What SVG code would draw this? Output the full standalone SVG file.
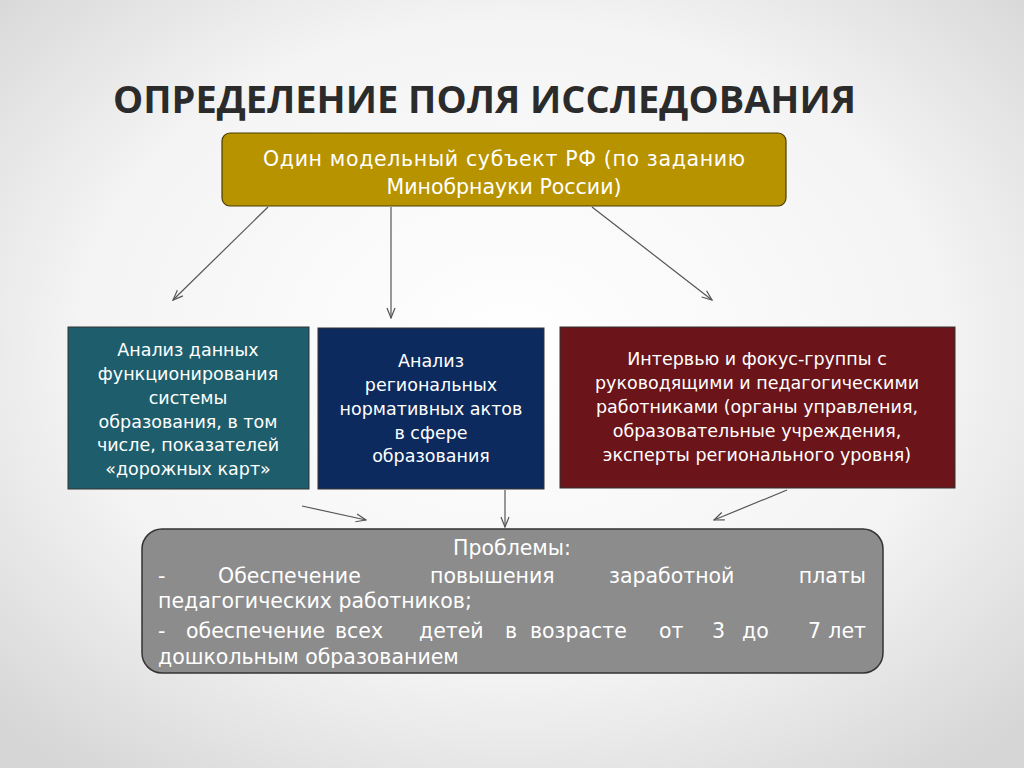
<svg xmlns="http://www.w3.org/2000/svg" width="1024" height="768" viewBox="0 0 1024 768">
<defs>
<radialGradient id="bg" cx="50%" cy="45%" r="70%"><stop offset="0" stop-color="#ffffff"/><stop offset="0.6" stop-color="#f4f4f4"/><stop offset="1" stop-color="#d6d6d6"/></radialGradient>
<marker id="ah" markerWidth="12" markerHeight="10" refX="11" refY="5" orient="auto" markerUnits="userSpaceOnUse"><path d="M1,1 L11,5 L1,9" fill="none" stroke="#555" stroke-width="1.2"/></marker>
<style>
.t{font-family:"DejaVu Sans","Open Sans",sans-serif;fill:#fff;font-size:17.5px;text-anchor:middle}
.b{font-family:"DejaVu Sans","Open Sans",sans-serif;fill:#fff;font-size:20.5px}
.c{stroke:#555;stroke-width:1.2;fill:none;marker-end:url(#ah)}
</style>
</defs>
<rect width="1024" height="768" fill="url(#bg)"/>
<text x="113" y="113" font-family="'Open Sans','Liberation Sans',sans-serif" font-weight="bold" font-size="38" fill="#2b2b2b" textLength="743" lengthAdjust="spacingAndGlyphs">ОПРЕДЕЛЕНИЕ ПОЛЯ ИССЛЕДОВАНИЯ</text>
<g id="top"><rect x="222" y="133" width="564" height="73" rx="8" fill="#b89300" stroke="#4a3c00" stroke-width="1.2"/>
<text class="t" style="font-size:20.5px" x="504" y="166" textLength="482">Один модельный субъект РФ (по заданию</text>
<text class="t" style="font-size:20.5px" x="504" y="194">Минобрнауки России)</text></g>
<g id="left"><rect x="68" y="327" width="241" height="162" fill="#1e5e6c" stroke="#333" stroke-width="1"/>
<text class="t" x="188" y="356">Анализ данных</text><text class="t" x="188" y="380">функционирования</text><text class="t" x="188" y="404">системы</text><text class="t" x="188" y="428">образования, в том</text><text class="t" x="188" y="451">числе, показателей</text><text class="t" x="188" y="475">«дорожных карт»</text></g>
<g id="mid"><rect x="318" y="328" width="226" height="161" fill="#0c2a5e" stroke="#333" stroke-width="1"/>
<text class="t" x="431" y="367">Анализ</text><text class="t" x="431" y="391">региональных</text><text class="t" x="431" y="415">нормативных актов</text><text class="t" x="431" y="439">в сфере</text><text class="t" x="431" y="462">образования</text></g>
<g id="right"><rect x="560" y="327" width="395" height="161" fill="#6b1419" stroke="#333" stroke-width="1"/>
<text class="t" x="757" y="365">Интервью и фокус-группы с</text><text class="t" x="757" y="389">руководящими и педагогическими</text><text class="t" x="757" y="413">работниками (органы управления,</text><text class="t" x="757" y="437">образовательные учреждения,</text><text class="t" x="757" y="461">эксперты регионального уровня)</text></g>
<g id="bottom"><rect x="142" y="529" width="741" height="144" rx="20" fill="#8c8c8c" stroke="#333" stroke-width="1.5"/>
<text class="b" x="512" y="555" text-anchor="middle">Проблемы:</text>
<text class="b" y="583"><tspan x="158">-</tspan><tspan x="218">Обеспечение</tspan><tspan x="430">повышения</tspan><tspan x="609">заработной</tspan><tspan x="866" text-anchor="end">платы</tspan></text>
<text class="b" x="158" y="608">педагогических работников;</text>
<text class="b" y="638"><tspan x="158">-</tspan><tspan x="186">обеспечение</tspan><tspan x="335">всех</tspan><tspan x="419">детей</tspan><tspan x="505">в</tspan><tspan x="530">возрасте</tspan><tspan x="659">от</tspan><tspan x="712">3</tspan><tspan x="742">до</tspan><tspan x="808">7</tspan><tspan x="866" text-anchor="end">лет</tspan></text>
<text class="b" x="158" y="664">дошкольным образованием</text></g>
<g id="connectors">
<line class="c" x1="268" y1="207" x2="173" y2="300"/>
<line class="c" x1="391" y1="207" x2="391" y2="318"/>
<line class="c" x1="592" y1="207" x2="712" y2="300"/>
<line class="c" x1="302" y1="506" x2="366" y2="520"/>
<line class="c" x1="505" y1="490" x2="505" y2="527"/>
<line class="c" x1="787" y1="490" x2="714" y2="520"/>
</g>
</svg>
